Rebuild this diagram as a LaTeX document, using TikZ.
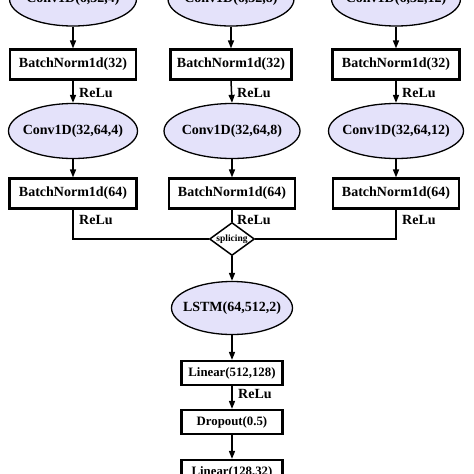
\documentclass[tikz,border=0pt]{standalone}
\usepackage{fontspec}
\setmainfont{Liberation Serif}
\usetikzlibrary{shapes.geometric,arrows.meta}
\definecolor{lav}{RGB}{228,226,250}
\begin{document}
\begin{tikzpicture}[x=1pt,y=-1pt,
  ell/.style={ellipse, draw, fill=lav, line width=1.3pt, inner sep=0pt,
    font=\bfseries\fontsize{14}{16}\selectfont},
  bigbox/.style={rectangle, draw, line width=2.2pt, inner sep=0pt,
    minimum width=126pt, minimum height=30pt,
    font=\bfseries\fontsize{14}{16}\selectfont},
  smallbox/.style={rectangle, draw, line width=2.2pt, inner sep=0pt,
    minimum width=101pt, minimum height=24pt,
    font=\bfseries\fontsize{12.8}{15}\selectfont},
  dia/.style={diamond, draw, fill=white, line width=1.5pt, inner sep=0pt,
    minimum width=45pt, minimum height=33pt,
    font=\bfseries\fontsize{9.5}{11}\selectfont},
  arr/.style={-{Triangle[length=8pt,width=6pt]}, line width=1.5pt},
  ln/.style={line width=1.5pt},
  lbl/.style={anchor=west, inner sep=0pt, font=\bfseries\fontsize{14}{16}\selectfont}]
\useasboundingbox (0,0) rectangle (474,474);
\clip (0,0) rectangle (474,474);
\fill[white] (0,0) rectangle (474,474);

% first conv layer
\node[ell, minimum width=127pt, minimum height=54pt] (ca) at (73,-1) {\makebox[0pt]{Conv1D(6,32,4)}};
\node[ell, minimum width=126pt, minimum height=54pt] (cb) at (231,-1) {\makebox[0pt]{Conv1D(6,32,8)}};
\node[ell, minimum width=129pt, minimum height=54pt] (cc) at (396,-1) {\makebox[0pt]{Conv1D(6,32,12)}};

% BatchNorm 32
\node[bigbox] (ba) at (73,64.5) {BatchNorm1d(32)};
\node[bigbox, minimum width=121pt] (bb) at (231,64.5) {BatchNorm1d(32)};
\node[bigbox, minimum width=127pt] (bc) at (396,64.5) {BatchNorm1d(32)};

% second conv layer
\node[ell, minimum width=129pt, minimum height=55pt] (da) at (73,131) {\makebox[0pt]{Conv1D(32,64,4)}};
\node[ell, minimum width=136pt, minimum height=55pt] (db) at (232,131) {\makebox[0pt]{Conv1D(32,64,8)}};
\node[ell, minimum width=135pt, minimum height=55pt] (dc) at (396,131) {\makebox[0pt]{Conv1D(32,64,12)}};

% BatchNorm 64
\node[bigbox, minimum width=127pt] (ea) at (73,193.5) {BatchNorm1d(64)};
\node[bigbox] (eb) at (232,193.5) {BatchNorm1d(64)};
\node[bigbox] (ec) at (396,193.5) {BatchNorm1d(64)};

% splicing
\node[dia] (sp) at (232,239) {\makebox[0pt]{splicing}};
\coordinate (la) at (73,239);
\coordinate (lc) at (396,239);

% LSTM and head
\node[ell, minimum width=121pt, minimum height=53pt] (ls) at (232,308) {\makebox[0pt]{LSTM(64,512,2)}};
\node[smallbox] (l1) at (232,373) {Linear(512,128)};
\node[smallbox] (dr) at (232,422) {Dropout(0.5)};
\node[smallbox] (l2) at (232,472) {Linear(128,32)};

% connectors
\foreach \a/\b in {ca/ba,cb/bb,cc/bc,ba/da,bb/db,bc/dc,da/ea,db/eb,dc/ec}
  \draw[arr] (\a.south) -- (\b.north);
\draw[ln] (ea.south) -- (la) -- (sp.west);
\draw[ln] (ec.south) -- (lc) -- (sp.east);
\draw[ln] (eb.south) -- (sp.north);
\draw[arr] (sp.south) -- (ls.north);
\draw[arr] (ls.south) -- (l1.north);
\draw[arr] (l1.south) -- (dr.north);
\draw[arr] (dr.south) -- (l2.north);

% labels
\node[lbl] (r1) at (79,93) {ReLu};
\node[lbl] (r2) at (237,93) {ReLu};
\node[lbl] (r3) at (402,93) {ReLu};
\node[lbl] (r4) at (79,220) {ReLu};
\node[lbl] (r5) at (237,220) {ReLu};
\node[lbl] (r6) at (402,220) {ReLu};
\node[lbl] (r7) at (238,394) {ReLu};
\end{tikzpicture}
\end{document}
